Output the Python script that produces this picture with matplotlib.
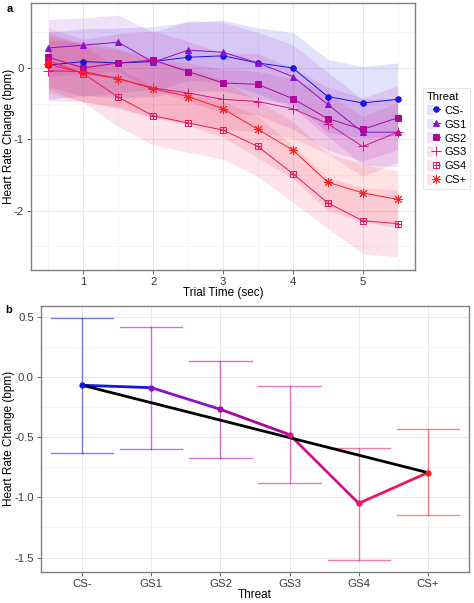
import matplotlib
matplotlib.use("Agg")
import matplotlib.pyplot as plt
import numpy as np
from matplotlib.path import Path
from matplotlib.patches import Patch
from matplotlib.lines import Line2D
from matplotlib.legend_handler import HandlerTuple

plt.rcParams['font.family'] = ['Liberation Sans', 'DejaVu Sans']
plt.rcParams['axes.unicode_minus'] = False

# ---------------- Panel a data ----------------
trial_time = [0.5, 1.0, 1.5, 2.0, 2.5, 3.0, 3.5, 4.0, 4.5, 5.0, 5.5]
threat_levels = ["CS-", "GS1", "GS2", "GS3", "GS4", "CS+"]

cs_minus = [0.04, 0.09, 0.07, 0.09, 0.15, 0.17, 0.07, 0.00, -0.40, -0.49, -0.44]
cs_minus_lo = [-0.44, -0.38, -0.42, -0.40, -0.33, -0.32, -0.43, -0.50, -0.90, -0.98, -0.95]
cs_minus_hi = [0.50, 0.55, 0.56, 0.58, 0.64, 0.67, 0.56, 0.50, 0.12, 0.02, 0.07]

gs1 = [0.28, 0.32, 0.36, 0.08, 0.25, 0.22, 0.07, -0.12, -0.51, -0.90, -0.90]
gs1_lo = [-0.12, -0.08, -0.04, -0.33, -0.17, -0.20, -0.36, -0.56, -0.96, -1.36, -1.38]
gs1_hi = [0.68, 0.70, 0.74, 0.50, 0.66, 0.64, 0.50, 0.32, -0.06, -0.44, -0.42]

gs2 = [0.15, 0.00, 0.07, 0.11, -0.05, -0.21, -0.23, -0.43, -0.71, -0.86, -0.70]
gs2_lo = [-0.26, -0.40, -0.35, -0.30, -0.47, -0.63, -0.66, -0.86, -1.15, -1.30, -1.15]
gs2_hi = [0.56, 0.40, 0.48, 0.52, 0.37, 0.21, 0.20, 0.00, -0.27, -0.42, -0.25]

gs3 = [-0.04, -0.05, -0.15, -0.28, -0.35, -0.44, -0.47, -0.57, -0.78, -1.10, -0.90]
gs3_lo = [-0.46, -0.47, -0.57, -0.70, -0.77, -0.86, -0.89, -0.99, -1.20, -1.52, -1.32]
gs3_hi = [0.38, 0.37, 0.27, 0.14, 0.07, -0.02, -0.05, -0.15, -0.36, -0.68, -0.48]

gs4 = [0.10, -0.08, -0.41, -0.67, -0.77, -0.87, -1.10, -1.48, -1.89, -2.14, -2.18]
gs4_lo = [-0.30, -0.48, -0.82, -1.08, -1.18, -1.28, -1.52, -1.88, -2.25, -2.60, -2.65]
gs4_hi = [0.50, 0.32, 0.00, -0.26, -0.36, -0.46, -0.68, -1.08, -1.53, -1.68, -1.71]

cs_plus = [0.05, -0.07, -0.15, -0.29, -0.40, -0.57, -0.86, -1.15, -1.60, -1.75, -1.84]
cs_plus_lo = [-0.35, -0.47, -0.55, -0.69, -0.80, -0.97, -1.26, -1.55, -2.00, -2.15, -2.24]
cs_plus_hi = [0.45, 0.33, 0.25, 0.11, 0.00, -0.17, -0.46, -0.75, -1.20, -1.35, -1.44]

# ---------------- Panel b data ----------------
b_means = [-0.07, -0.09, -0.27, -0.48, -1.05, -0.795]
b_err_hi = [0.49, 0.41, 0.13, -0.075, -0.59, -0.43]
b_err_lo = [-0.63, -0.60, -0.67, -0.88, -1.52, -1.15]

colors = ["#1414E6", "#8A10CC", "#B0049E", "#D21486", "#E8185C", "#FF1E1E"]

# square-with-plus marker (ggplot shape 12)
sq_plus = Path(
    [(-1, -1), (1, -1), (1, 1), (-1, 1), (-1, -1),
     (-1, 0), (1, 0), (0, -1), (0, 1)],
    [Path.MOVETO, Path.LINETO, Path.LINETO, Path.LINETO, Path.CLOSEPOLY,
     Path.MOVETO, Path.LINETO, Path.MOVETO, Path.LINETO])

markers = ['o', '^', 's', '+', sq_plus, (8, 2, 0)]
msizes = [4, 4.5, 4, 7, 4.2, 6.5]
filled = [True, True, True, False, False, False]

series = [
    (cs_minus, cs_minus_lo, cs_minus_hi),
    (gs1, gs1_lo, gs1_hi),
    (gs2, gs2_lo, gs2_hi),
    (gs3, gs3_lo, gs3_hi),
    (gs4, gs4_lo, gs4_hi),
    (cs_plus, cs_plus_lo, cs_plus_hi),
]

W, H = 474, 603
fig = plt.figure(figsize=(W / 100, H / 100), dpi=100)

def px_axes(l, t, r, b):
    return fig.add_axes([l / W, 1 - b / H, (r - l) / W, (b - t) / H])

def style_axes(ax):
    for s in ax.spines.values():
        s.set_color("#808080")
        s.set_linewidth(1.0)
    ax.tick_params(axis='both', which='major', length=3, width=0.6, color="#555555",
                   labelsize=8.2, labelcolor="#3A3A3A", pad=2)
    ax.tick_params(axis='both', which='minor', length=0)
    ax.grid(True, which='major', color="#E6E6E6", lw=0.6)
    ax.grid(True, which='minor', color="#F0F0F0", lw=0.4)
    ax.set_axisbelow(True)

# ---------------- Panel a ----------------
axa = px_axes(31, 3, 415, 270)
style_axes(axa)
t = np.array(trial_time)
handles = []
for i, (name, (m, lo, hi)) in enumerate(zip(threat_levels, series)):
    c = colors[i]
    axa.fill_between(t, lo, hi, color=c, alpha=0.12, lw=0)
    mfc = c if filled[i] else 'none'
    axa.plot(t, m, color=c, lw=0.7, marker=markers[i], ms=msizes[i],
             mfc=mfc, mec=c, mew=0.7, zorder=3)
    h_patch = Patch(facecolor=c, alpha=0.12, edgecolor='none')
    h_line = Line2D([], [], color=c, lw=0.7, marker=markers[i], ms=msizes[i],
                    mfc=mfc, mec=c, mew=0.7)
    handles.append((h_patch, h_line))

axa.set_xlim(0.25, 5.75)
axa.set_ylim(-2.83, 0.91)
axa.set_xticks([1, 2, 3, 4, 5])
axa.set_xticks([0.5, 1.5, 2.5, 3.5, 4.5, 5.5], minor=True)
axa.set_yticks([0, -1, -2])
axa.set_yticklabels(["0", "-1", "-2"])
axa.set_yticks([0.5, -0.5, -1.5, -2.5], minor=True)
axa.set_xlabel("Trial Time (sec)", fontsize=8.5)
axa.xaxis.set_label_coords(0.5, -(293 - 270) / 267, transform=axa.transAxes)
axa.set_ylabel("Heart Rate Change (bpm)", fontsize=8.5)
axa.yaxis.set_label_coords((9 - 31) / 384, 0.5, transform=axa.transAxes)
axa.yaxis.label.set_va('center')
axa.xaxis.label.set_va('center')

leg = fig.legend(handles, threat_levels, title="Threat",
                 handler_map={tuple: HandlerTuple(ndivide=None, pad=0)},
                 loc='upper left', bbox_to_anchor=(423 / W, 1 - 88 / H),
                 bbox_transform=fig.transFigure,
                 fontsize=8, title_fontsize=8, frameon=True,
                 handlelength=1.15, handleheight=1.1, handletextpad=0.4,
                 labelspacing=0.25, borderpad=0.35, borderaxespad=0, fancybox=False)
leg.get_frame().set_edgecolor("#E0E0E0")
leg.get_frame().set_linewidth(0.8)
leg._legend_box.align = "left"

fig.text(7 / W, 1 - 9 / H, "a", fontsize=8, fontweight='bold', ha='left', va='center')

# ---------------- Panel b ----------------
axb = px_axes(40.7, 305.7, 469.3, 571.7)
style_axes(axb)
xb = np.arange(len(threat_levels))
for i in range(len(threat_levels)):
    c = colors[i]
    axb.plot([xb[i], xb[i]], [b_err_lo[i], b_err_hi[i]], color=c, alpha=0.55, lw=1.0)
    axb.plot([xb[i] - 0.45, xb[i] + 0.45], [b_err_hi[i], b_err_hi[i]], color=c, alpha=0.55, lw=1.0)
    axb.plot([xb[i] - 0.45, xb[i] + 0.45], [b_err_lo[i], b_err_lo[i]], color=c, alpha=0.55, lw=1.0)
for i in range(len(threat_levels) - 1):
    axb.plot(xb[i:i + 2], b_means[i:i + 2], color=colors[i], lw=2.0, solid_capstyle='round', zorder=3)
axb.plot([xb[0], xb[-1]], [b_means[0], b_means[-1]], color='black', lw=2.0, zorder=4)
for i in range(len(threat_levels)):
    axb.plot(xb[i], b_means[i], 'o', color=colors[i], ms=3.5, zorder=5)

axb.set_xlim(-0.6, 5.6)
axb.set_ylim(-1.617, 0.59)
axb.set_xticks(xb)
axb.set_xticklabels(threat_levels)
axb.set_yticks([0.5, 0.0, -0.5, -1.0, -1.5])
axb.set_yticklabels(["0.5", "0.0", "-0.5", "-1.0", "-1.5"])
axb.set_yticks([0.25, -0.25, -0.75, -1.25], minor=True)
axb.set_xlabel("Threat", fontsize=8.5)
axb.xaxis.set_label_coords(0.5, -(595 - 571.7) / 266, transform=axb.transAxes)
axb.set_ylabel("Heart Rate Change (bpm)", fontsize=8.5)
axb.yaxis.set_label_coords((9 - 40.7) / 428.6, 0.5, transform=axb.transAxes)
axb.yaxis.label.set_va('center')
axb.xaxis.label.set_va('center')

fig.text(5 / W, 1 - 310 / H, "b", fontsize=8, fontweight='bold', ha='left', va='center')

fig.savefig("out.png", dpi=100)
